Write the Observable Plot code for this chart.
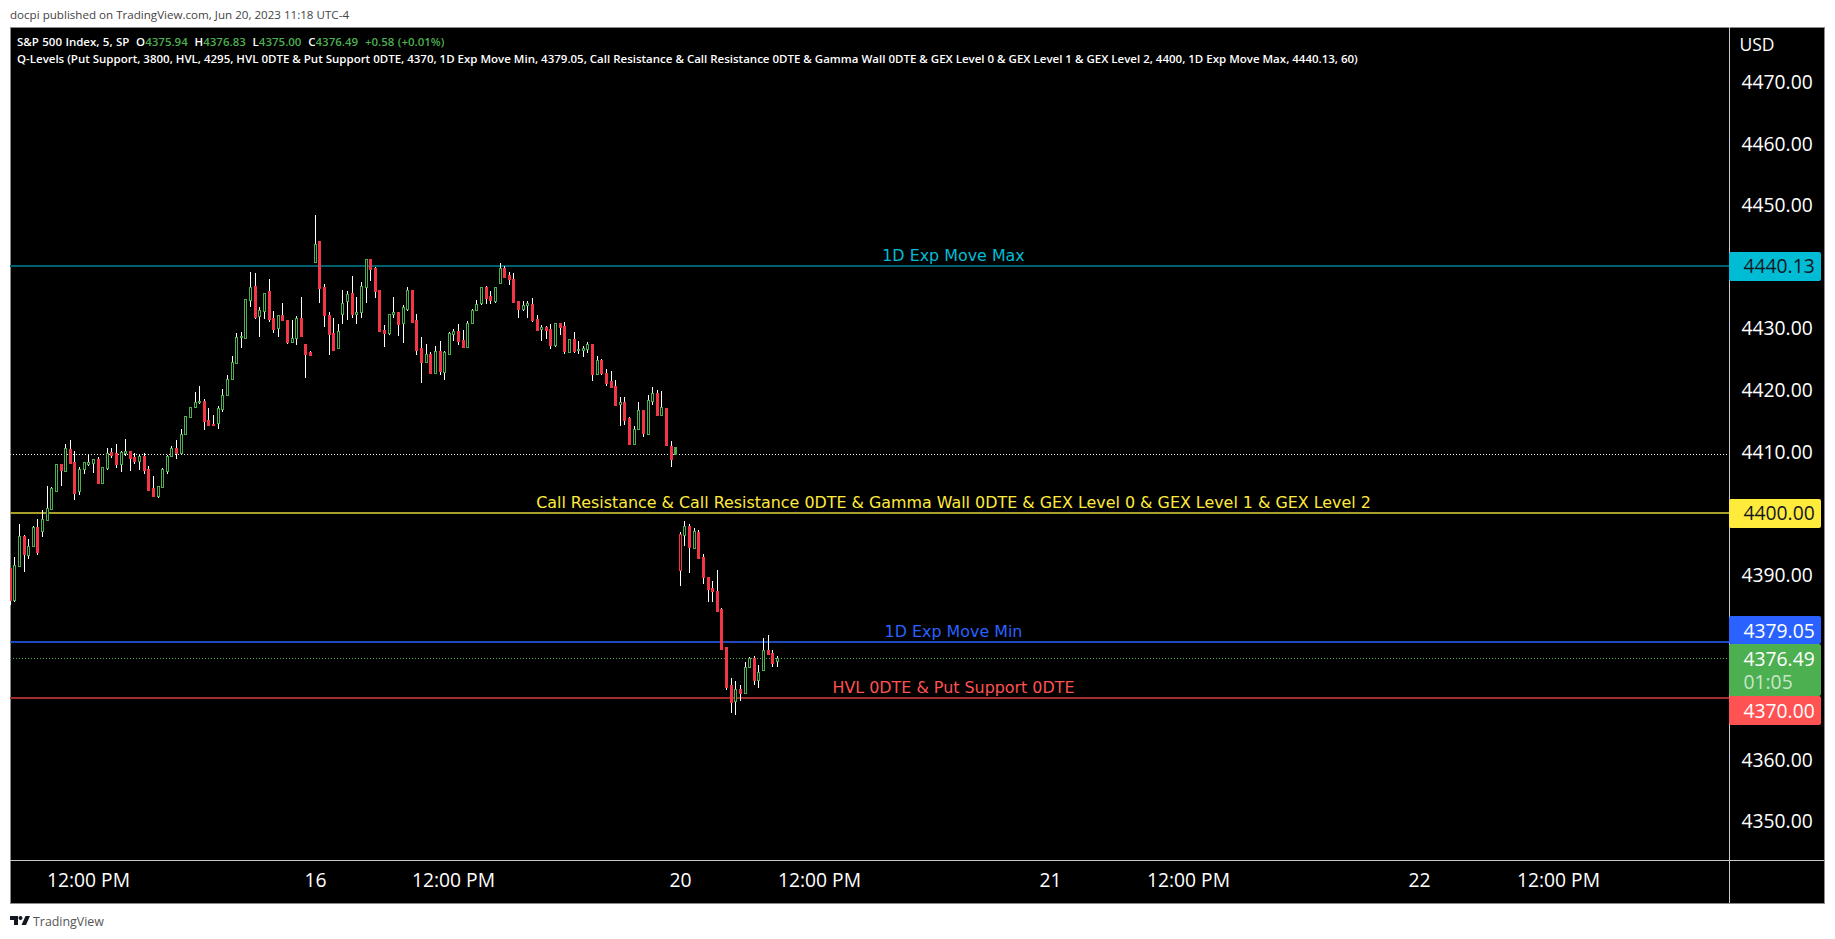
<!DOCTYPE html>
<html>
<head>
<meta charset="utf-8">
<script src="https://cdn.jsdelivr.net/npm/d3@7"></script>
<script src="https://cdn.jsdelivr.net/npm/@observablehq/plot@0.6"></script>
<style>
html,body{margin:0;padding:0;background:#fff;width:1835px;height:939px;overflow:hidden}
#page{position:relative;width:1835px;height:939px;font-family:"Open Sans",sans-serif}
#panel{position:absolute;left:10px;top:27px;width:1813px;height:875px;background:#000;border:1px solid #8a8a8f}
#vline{position:absolute;left:1729px;top:27px;width:1px;height:876px;background:#c8c8cc}
#hline{position:absolute;left:10px;top:860px;width:1814px;height:1px;background:#c8c8cc}
#chart{position:absolute;left:0;top:0}
.t{position:absolute;white-space:pre;line-height:16px}
#pub{left:10px;top:7px;font-size:11.6px;color:#444}
#l1,#l2{left:17px;font-size:11.5px;font-weight:600;color:#fff}
#l1{top:34px;word-spacing:0.4px}#l2{top:51px}
#l1 b{font-weight:600;color:#4caf50}
#tvtext{left:33px;top:914px;font-size:12.4px;color:#555}
#logo{position:absolute;left:10px;top:916px}
</style>
</head>
<body>
<div id="page">
  <div id="panel"></div>
  <div id="vline"></div>
  <div id="hline"></div>
  <div id="chart"></div>
  <div class="t" id="pub"></div>
  <div class="t" id="l1"></div>
  <div class="t" id="l2"></div>
  <svg id="logo" width="20" height="10" viewBox="0 0 20 10"><path d="M0 0h8v9H4V4H0z M15.5 0h4.5l-4 9h-4.5z" fill="#131722"/><circle cx="10.5" cy="2" r="2" fill="#131722"/></svg>
  <div class="t" id="tvtext">TradingView</div>
</div>
<script>
const open = [
4391.16,4385.91,4391.49,4396.30,4393.27,4394.68,4397.76,4397.11,4398.95,4400.69,
4403.66,4407.99,4406.85,4410.43,4408.32,4403.66,4407.18,4407.99,4408.15,4408.80,
4404.91,4407.34,4409.94,4409.78,4407.99,4409.78,4410.10,4409.13,4408.48,4409.29,
4407.18,4404.09,4402.80,4404.26,4406.85,4409.29,4410.59,4409.72,4412.91,4415.61,
4417.24,4418.05,4418.21,4415.13,4414.48,4414.59,4416.91,4419.24,4421.84,4424.43,
4428.60,4428.49,4434.66,4436.88,4432.06,4432.82,4436.07,4431.69,4430.06,4432.17,
4431.36,4427.79,4428.44,4431.69,4427.46,4426.17,4440.78,4444.18,4436.72,4432.17,
4429.25,4426.81,4432.33,4434.44,4435.74,4432.33,4432.66,4436.72,4441.26,4439.80,
4436.23,4429.74,4429.25,4432.33,4432.66,4430.87,4433.15,4436.23,4431.36,4426.81,
4424.54,4425.84,4422.76,4426.33,4422.92,4425.84,4429.09,4429.57,4428.11,4426.98,
4430.87,4432.98,4434.12,4436.72,4435.26,4434.44,4437.37,4439.80,4438.67,4438.02,
4434.44,4433.15,4433.80,4433.96,4431.52,4429.90,4430.22,4429.90,4427.30,4430.87,
4430.39,4426.17,4428.28,4426.49,4426.49,4426.65,4427.46,4422.59,4424.87,4422.76,
4421.46,4420.65,4417.72,4418.05,4415.45,4411.23,4413.67,4416.75,4412.91,4418.21,
4419.51,4415.94,4417.08,4410.91,4410.74,4390.78,4396.46,4397.92,4394.35,4396.95,
4392.89,4389.64,4387.86,4387.37,4384.45,4378.28,4372.11,4369.52,4371.46,4370.81,
4375.03,4376.49,4372.92,4374.55,4377.79,4377.31,4375.94];
const high = [
4391.16,4392.95,4398.25,4396.41,4395.82,4397.93,4399.06,4400.52,4404.42,4404.20,
4407.99,4407.99,4411.24,4411.89,4410.10,4407.50,4408.32,4409.61,4408.80,4409.13,
4407.50,4410.59,4410.59,4411.24,4410.10,4412.05,4410.10,4409.78,4409.61,4409.78,
4407.67,4406.04,4404.42,4407.34,4409.45,4410.91,4411.89,4413.67,4415.72,4417.18,
4419.67,4420.65,4418.54,4417.08,4415.94,4417.40,4420.16,4422.43,4425.52,4429.25,
4429.41,4434.77,4439.15,4438.99,4433.47,4435.74,4438.02,4432.82,4432.17,4434.12,
4431.36,4431.36,4432.01,4435.09,4427.46,4426.33,4448.41,4444.18,4437.20,4432.66,
4431.69,4430.71,4436.23,4436.07,4438.50,4435.09,4437.53,4441.26,4441.26,4439.96,
4436.23,4430.55,4432.33,4435.09,4432.66,4433.80,4436.72,4436.23,4432.33,4428.60,
4427.46,4426.17,4427.14,4427.95,4426.33,4429.41,4429.90,4430.71,4429.74,4431.20,
4433.15,4434.61,4436.72,4436.88,4436.07,4436.72,4440.61,4440.13,4439.15,4438.99,
4434.44,4434.44,4434.44,4434.93,4432.17,4430.55,4430.39,4430.71,4430.87,4430.87,
4431.04,4428.28,4429.41,4427.95,4427.14,4427.79,4427.46,4425.52,4425.03,4423.41,
4423.08,4421.62,4418.86,4418.86,4415.61,4414.15,4418.05,4416.75,4419.19,4420.48,
4420.00,4419.84,4417.08,4411.72,4410.74,4396.95,4398.73,4398.25,4397.60,4397.27,
4393.38,4389.64,4388.99,4390.78,4384.61,4378.28,4373.25,4372.76,4372.11,4375.85,
4376.66,4376.82,4375.36,4379.74,4380.23,4377.79,4376.83];
const low = [
4385.10,4385.59,4391.49,4390.46,4392.57,4394.52,4393.22,4396.14,4398.95,4400.52,
4403.66,4404.42,4406.69,4407.99,4402.15,4402.96,4406.37,4407.67,4406.53,4404.91,
4404.74,4407.02,4408.96,4407.34,4406.69,4409.29,4406.85,4407.99,4407.02,4406.37,
4403.77,4402.80,4402.47,4404.09,4406.37,4409.29,4408.80,4409.55,4412.91,4415.45,
4417.24,4417.72,4413.50,4414.32,4414.15,4413.67,4416.43,4419.24,4421.84,4424.43,
4426.81,4428.49,4433.47,4431.52,4428.60,4431.52,4431.04,4429.25,4428.60,4431.36,
4427.46,4427.79,4427.30,4428.76,4421.95,4425.68,4440.78,4434.12,4430.22,4425.68,
4426.49,4426.81,4430.71,4431.36,4431.69,4430.71,4431.69,4434.12,4437.69,4434.93,
4429.41,4426.98,4428.93,4431.69,4428.76,4427.63,4432.82,4431.04,4425.68,4421.13,
4424.54,4422.59,4422.76,4422.43,4421.62,4425.84,4427.95,4427.30,4426.98,4426.98,
4430.71,4432.82,4433.80,4433.96,4433.96,4434.12,4437.20,4438.34,4437.04,4434.28,
4431.69,4432.82,4431.69,4431.04,4429.74,4427.95,4428.28,4426.65,4426.98,4428.93,
4425.84,4426.17,4426.00,4425.84,4425.35,4426.00,4421.46,4422.59,4422.43,4420.65,
4420.32,4417.56,4414.15,4414.32,4411.23,4411.07,4413.67,4412.37,4412.91,4417.56,
4415.78,4415.78,4411.07,4407.50,4409.45,4388.18,4394.68,4390.29,4394.35,4392.73,
4388.51,4385.59,4385.59,4384.12,4377.96,4371.30,4367.57,4367.24,4369.52,4370.65,
4375.03,4372.11,4371.63,4374.55,4376.98,4375.03,4375.00];
const close = [
4385.91,4391.60,4396.30,4393.44,4394.68,4397.76,4393.76,4399.06,4400.79,4404.09,
4407.99,4407.02,4410.59,4408.15,4403.28,4407.18,4408.32,4408.32,4408.80,4404.91,
4407.50,4409.78,4409.45,4407.99,4409.94,4410.10,4408.96,4408.48,4409.29,4407.02,
4403.77,4402.80,4404.42,4407.18,4409.29,4410.59,4409.78,4412.80,4415.72,4417.18,
4418.00,4418.21,4415.02,4414.32,4414.32,4417.02,4419.19,4421.73,4424.49,4428.60,
4428.76,4434.77,4436.72,4431.85,4432.98,4435.74,4431.52,4429.90,4432.12,4431.36,
4427.79,4428.44,4431.69,4428.76,4425.84,4425.68,4443.70,4436.56,4432.17,4429.09,
4426.49,4429.57,4434.12,4435.58,4432.33,4432.66,4436.88,4441.26,4439.64,4436.07,
4429.57,4429.25,4432.33,4432.66,4430.71,4433.47,4436.23,4431.04,4426.49,4424.54,
4425.84,4422.76,4426.33,4423.08,4426.17,4429.25,4429.57,4427.95,4426.98,4430.87,
4432.98,4433.96,4436.72,4434.93,4434.61,4436.72,4439.80,4438.34,4438.02,4434.28,
4433.15,4433.80,4434.12,4431.36,4429.74,4430.22,4429.74,4427.30,4430.87,4430.22,
4426.33,4428.28,4426.33,4426.65,4426.81,4427.46,4422.59,4424.87,4422.76,4421.13,
4420.48,4417.56,4418.05,4415.13,4411.23,4413.67,4416.75,4413.02,4418.37,4419.51,
4415.94,4417.24,4411.07,4408.80,4409.59,4396.62,4397.92,4394.51,4397.11,4392.73,
4389.64,4387.70,4387.37,4384.12,4377.96,4371.79,4369.35,4371.46,4370.81,4375.03,
4376.49,4372.92,4374.22,4377.79,4377.14,4375.68,4376.49];

const filledUpBars = [144];     // close under open, still above the prior close
const hollowDownBars = [145];   // close over open, still below the prior close

const priceTicks = [4350,4360,4390,4410,4420,4430,4450,4460,4470];
const timeTicks = [17,66,96,145,175,225,255,305,335];
const timeLabels = ["12:00 PM","16","12:00 PM","20","12:00 PM","21","12:00 PM","22","12:00 PM"];

const levelPrices = [4440.13,4400,4379.05,4370];
const levelNames = ["1D Exp Move Max",
  "Call Resistance & Call Resistance 0DTE & Gamma Wall 0DTE & GEX Level 0 & GEX Level 1 & GEX Level 2",
  "1D Exp Move Min","HVL 0DTE & Put Support 0DTE"];
const levelLines = ["#00606e","#a89d2b","#2962ff","#a32e2e"];
const levelInks = ["#00bcd4","#ffeb3b","#2962ff","#ff5252"];
const levelWidths = [2,2,1.5,2];
const prevClose = 4409.59, lastPrice = 4376.49;

const tagTexts = ["4440.13","4400.00","4379.05","4376.49","4370.00"];
const tagTextPrices = [4440.13,4400,4380.88,4376.33,4367.9];
const tagTops = [4442.4,4402.3,4383.31,4378.77,4370.32];
const tagBottoms = [4437.69,4397.6,4378.77,4370.32,4365.62];
const tagFills = ["#00bcd4","#ffeb3b","#2962ff","#4caf50","#ff5252"];
const tagInks = ["#131722","#131722","#ffffff","#ffffff","#ffffff"];
const countdownText = "01:05", countdownPrice = 4372.55;

const GREEN = "#4caf50", RED = "#f23645";
const bars = open.map((o,i) => {
  const up = close[i] > o;
  const colorUp = filledUpBars.includes(i) ? true : hollowDownBars.includes(i) ? false : up;
  return {i, o, h:high[i], l:low[i], c:close[i],
    stroke: colorUp ? GREEN : RED, fill: up ? "#000" : (colorUp ? GREEN : RED)};
});
const levels = levelPrices.map((p,k) => ({p, name:levelNames[k], line:levelLines[k], ink:levelInks[k], w:levelWidths[k]}));
const tags = tagTexts.map((t,k) => ({t, p:tagTextPrices[k], y1:tagTops[k], y2:tagBottoms[k], fill:tagFills[k], ink:tagInks[k]}));

const axisFont = "Open Sans";
const labelFont = "DejaVu Sans";
const plot = Plot.plot({
  width:1835, height:939,
  marginTop:27, marginBottom:79, marginLeft:10, marginRight:106,
  style:{background:"transparent", fontFamily:axisFont},
  x:{domain:[0.065,372], round:true, axis:null},
  y:{domain:[4343.70,4478.93], round:true, axis:null},
  marks:[
    Plot.ruleY(levels,{y:"p",stroke:"line",strokeWidth:"w",dy:-0.5}),
    Plot.ruleY([prevClose],{stroke:"#fff",strokeWidth:1,strokeDasharray:"1,2"}),
    Plot.ruleY([lastPrice],{stroke:GREEN,strokeWidth:1,strokeDasharray:"1,2"}),
    Plot.ruleX(bars,{x:"i",y1:"l",y2:"h",stroke:"#fff",strokeWidth:1,clip:true}),
    Plot.rect(bars,{x1:"i",x2:"i",y1:"o",y2:"c",fill:"fill",stroke:"stroke",strokeWidth:1,insetLeft:-1,insetRight:-1,dx:0.5,dy:0.5,clip:true}),
    Plot.text(levels,{x:()=>204,y:"p",text:"name",fill:"ink",dy:-11,fontSize:15.9,fontFamily:labelFont}),
    Plot.axisY({anchor:"right",ticks:priceTicks,tickFormat:d3.format(".2f"),tickSize:0,tickPadding:12,label:null,
      fontSize:19.3,fontWeight:500,fill:"#fff",color:"#fff"}),
    Plot.axisX({anchor:"bottom",ticks:timeTicks,tickFormat:d=>timeLabels[timeTicks.indexOf(d)],tickSize:0,tickPadding:13,label:null,
      fontSize:19.3,fontWeight:500,fill:"#fff",color:"#fff"}),
    Plot.rect(tags,{x1:()=>372,x2:()=>391.8,y1:"y1",y2:"y2",fill:"fill",rx:2}),
    Plot.text(tags,{x:()=>375,y:"p",text:"t",fill:"ink",textAnchor:"start",fontSize:19.3,fontWeight:500}),
    Plot.text([countdownText],{x:()=>375,y:()=>countdownPrice,text:d=>d,fill:"#c8e6c9",textAnchor:"start",fontSize:19.3,fontWeight:500}),
    Plot.text(["USD"],{x:()=>372,y:()=>4476,text:d=>d,fill:"#fff",textAnchor:"start",dx:10,fontSize:17.5,fontWeight:500})
  ]
});
document.getElementById("chart").appendChild(plot);

document.getElementById("pub").textContent = "docpi published on TradingView.com, Jun 20, 2023 11:18 UTC-4";
document.getElementById("l1").innerHTML = "S&amp;P 500 Index, 5, SP  O<b>4375.94</b>  H<b>4376.83</b>  L<b>4375.00</b>  C<b>4376.49</b>  <b>+0.58 (+0.01%)</b>";
document.getElementById("l2").textContent = "Q-Levels (Put Support, 3800, HVL, 4295, HVL 0DTE & Put Support 0DTE, 4370, 1D Exp Move Min, 4379.05, Call Resistance & Call Resistance 0DTE & Gamma Wall 0DTE & GEX Level 0 & GEX Level 1 & GEX Level 2, 4400, 1D Exp Move Max, 4440.13, 60)";
</script>
</body>
</html>
